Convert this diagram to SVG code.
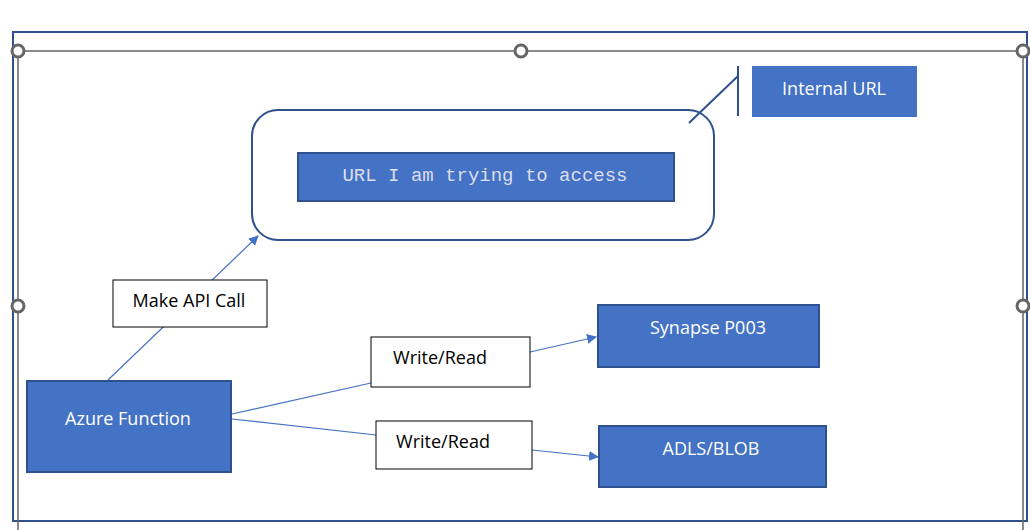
<svg xmlns="http://www.w3.org/2000/svg" width="1030" height="530" viewBox="0 0 1030 530">
<defs>
<style>
.box{fill:#4472c4;stroke:#2f528f;stroke-width:2}
.lbl{fill:#fff;stroke:#000;stroke-width:1}
.t{font-family:"Open Sans","Liberation Sans",sans-serif;font-size:18px}
.w{fill:#fff}
.c{fill:none;stroke:#4472c4;stroke-width:1.2}
.h{fill:#fff;stroke:#666;stroke-width:3}
</style>
<marker id="ar" markerWidth="10" markerHeight="10" refX="9" refY="5" orient="auto" markerUnits="userSpaceOnUse"><path d="M0,0 L10,5 L0,10 z" fill="#4472c4"/></marker>
</defs>
<rect width="1030" height="530" fill="#fff"/>
<rect x="13" y="32" width="1014" height="489" fill="none" stroke="#2f528f" stroke-width="2"/>
<path d="M18,530 V51 H1023 V530" fill="none" stroke="#666" stroke-width="1.5"/>
<g id="url-container"><rect x="252" y="110" width="462" height="130" rx="26" fill="none" stroke="#2f528f" stroke-width="2"/></g>
<g id="url-box"><rect class="box" x="298" y="153" width="376" height="48"/><text x="485" y="181" text-anchor="middle" font-family="Liberation Mono,monospace" font-size="19" fill="#dde">URL I am trying to access</text></g>
<g id="callout"><path d="M738,66 V116 M738,76 L689,123" fill="none" stroke="#2f528f" stroke-width="2"/></g>
<g id="internal-url"><rect x="752" y="66" width="165" height="51" fill="#4472c4"/><text class="t w" x="834" y="95" text-anchor="middle">Internal URL</text></g>
<g id="connectors">
<line class="c" x1="108" y1="380" x2="258" y2="236" marker-end="url(#ar)"/>
<line class="c" x1="232" y1="414" x2="371" y2="383"/>
<line class="c" x1="530" y1="352" x2="596" y2="337" marker-end="url(#ar)"/>
<line class="c" x1="232" y1="419" x2="376" y2="435"/>
<line class="c" x1="532" y1="450" x2="598" y2="457" marker-end="url(#ar)"/>
</g>
<g id="make-api"><rect class="lbl" x="113" y="280" width="154" height="47"/><text class="t" x="189" y="307" text-anchor="middle">Make API Call</text></g>
<g id="azure-function"><rect class="box" x="27" y="381" width="204" height="91"/><text class="t w" x="128" y="425" text-anchor="middle">Azure Function</text></g>
<g id="wr1"><rect class="lbl" x="371" y="337" width="159" height="50"/><text class="t" x="440" y="364" text-anchor="middle">Write/Read</text></g>
<g id="wr2"><rect class="lbl" x="376" y="421" width="156" height="48"/><text class="t" x="443" y="448" text-anchor="middle">Write/Read</text></g>
<g id="synapse"><rect class="box" x="598" y="305" width="221" height="62"/><text class="t w" x="708" y="334" text-anchor="middle">Synapse P003</text></g>
<g id="adls"><rect class="box" x="599" y="426" width="227" height="61"/><text class="t w" x="711" y="455" text-anchor="middle">ADLS/BLOB</text></g>
<g id="handles"><circle class="h" cx="18" cy="51" r="6"/><circle class="h" cx="521" cy="51" r="6"/><circle class="h" cx="1023" cy="51" r="6"/><circle class="h" cx="18" cy="306" r="6"/><circle class="h" cx="1023" cy="306" r="6"/></g>
</svg>
